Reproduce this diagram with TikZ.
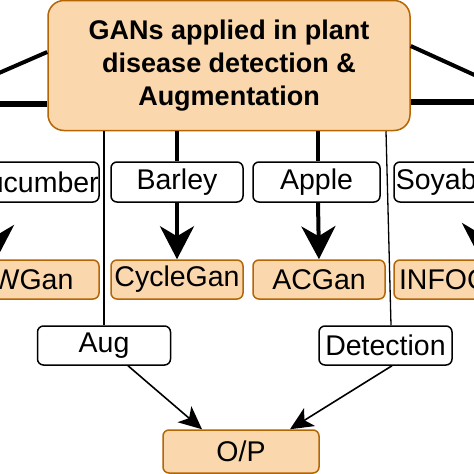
\documentclass[tikz,border=0pt]{standalone}
\usepackage{fontspec}
\setmainfont{Liberation Sans}
\usepackage{tikz}
\usetikzlibrary{arrows.meta}
\usetikzlibrary{calc}
\usetikzlibrary{shapes}

\definecolor{ganfill}{HTML}{FAD7AC}
\definecolor{ganborder}{HTML}{B46504}

\begin{document}
\begin{tikzpicture}[x=1pt, y=-1pt,
        node_style/.style={rectangle,rounded corners=6pt,draw=black,line width=1.5pt,fill=white,inner sep=0pt,minimum width=132pt,minimum height=40pt,font=\fontsize{28.5}{34}\selectfont},
        gan_node_style/.style={node_style,draw=ganborder,fill=ganfill},
        title_node_style/.style={gan_node_style,rounded corners=16pt,align=center,minimum width=362pt,minimum height=130pt,font=\fontsize{27}{33}\selectfont\bfseries},
        edge_style/.style={draw=black, line width=4pt},
        arrow_edge_style/.style={edge_style,-{Stealth[length=33pt,width=34pt,inset=10pt]}},
        thin_edge_style/.style={draw=black, line width=1.3pt},
        thin_arrow_style/.style={draw=black, line width=1.6pt,-{Stealth[length=23pt,width=21pt,inset=6pt]}}]

        \useasboundingbox (0,0) rectangle (474,474);
        \clip (0,0) rectangle (474,474);
        \fill [white] (0,0) rectangle (474,474);

        % lines that run off the picture
        \coordinate (left_up) at (-30,85.6);
        \coordinate (left_low) at (-30,104);
        \coordinate (right_up) at (500,86.6);
        \coordinate (right_low) at (500,102);
        \coordinate (left_tip_from) at (-3,202);
        \coordinate (left_tip) at (-3,258);
        \coordinate (right_tip_from) at (479,202);
        \coordinate (right_tip) at (479,256);

        \node [title_node_style](gans) at (229,65.5) {\raisebox{-2.5pt}{GANs applied in plant}\\\raisebox{-2.5pt}{disease detection \&}\\\raisebox{-2.5pt}{Augmentation}};

        \node [node_style](cucumber) at (33,182) {Cucumber};
        \node [node_style](barley) at (177,182) {Barley};
        \node [node_style,minimum width=127pt](apple) at (316.5,182) {Apple};
        \node [node_style](soyabean) at (460,182) {Soyabean};

        \node [gan_node_style,minimum height=39pt](wgan) at (33,279.5) {WGan};
        \node [gan_node_style,minimum height=39pt](cyclegan) at (177,279.5) {CycleGan};
        \node [gan_node_style,minimum height=39pt](acgan) at (319,279.5) {ACGan};
        \node [gan_node_style,minimum height=39pt](infogan) at (460,279.5) {INFOGan};

        \node [node_style,minimum width=133pt,minimum height=39pt](aug) at (104,345.5) {Aug};
        \node [node_style,minimum width=133pt,minimum height=39pt](detection) at (385.5,345.5) {Detection};

        \node [gan_node_style,minimum width=156pt,minimum height=43pt](op) at (241,451.5) {O/P};

        \draw [edge_style] ([yshift=13.5pt]gans.west) -- (left_up);
        \draw [edge_style,line width=6pt] ([yshift=-38.5pt]gans.west) -- (left_low);
        \draw [edge_style] ([yshift=19.5pt]gans.east) -- (right_up);
        \draw [edge_style,line width=6pt] ([yshift=-36.5pt]gans.east) -- (right_low);

        \draw [edge_style] (barley.north |- gans.south) -- (barley.north);
        \draw [edge_style] ([xshift=1.5pt]apple.north |- gans.south) -- ([xshift=1.5pt]apple.north);

        \draw [thin_edge_style] (aug.north |- gans.south) -- (aug.north);
        \draw [thin_edge_style] ([xshift=0.5pt]detection.north |- gans.south) -- ([xshift=5.5pt]detection.north);

        \draw [arrow_edge_style] (barley) edge (cyclegan);
        \draw [arrow_edge_style] ([xshift=1.5pt]apple.south) -- (acgan.north);
        \draw [arrow_edge_style] (left_tip_from) -- (left_tip);
        \draw [arrow_edge_style] (right_tip_from) -- (right_tip);

        \draw [thin_arrow_style] ([xshift=24pt]aug.south) -- ([xshift=-39pt]op.north);
        \draw [thin_arrow_style] ([xshift=6.5pt]detection.south) -- ([xshift=49pt]op.north);

        \end{tikzpicture}
\end{document}
